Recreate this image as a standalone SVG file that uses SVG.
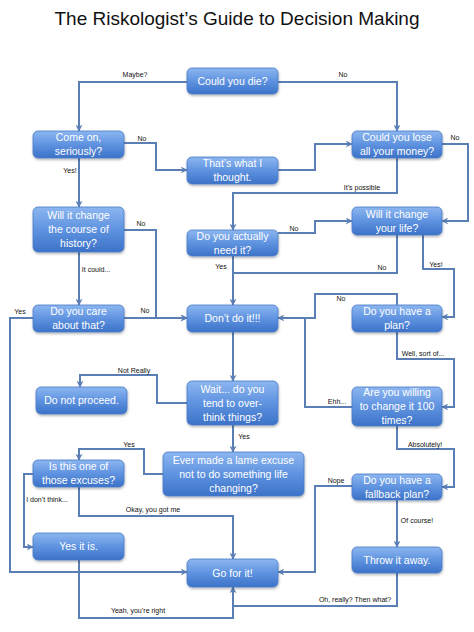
<svg xmlns="http://www.w3.org/2000/svg" width="474" height="632" viewBox="0 0 474 632">
<defs>
<linearGradient id="g" x1="0" y1="0" x2="0" y2="1">
<stop offset="0" stop-color="#8cb6f0"/>
<stop offset="0.5" stop-color="#5f93e0"/>
<stop offset="1" stop-color="#3c72c8"/>
</linearGradient>
<filter id="sh" x="-10%" y="-10%" width="125%" height="140%">
<feDropShadow dx="0.5" dy="1.5" stdDeviation="1" flood-color="#000" flood-opacity="0.3"/>
</filter>
<marker id="ar" viewBox="0 0 10 10" refX="9" refY="5" markerWidth="7" markerHeight="7" markerUnits="userSpaceOnUse" orient="auto">
<path d="M0,0 L10,5 L0,10 L3,5 z" fill="#5b7fb5"/>
</marker>
</defs>
<style>
.n rect{fill:url(#g);stroke:#4a7cc6;stroke-width:0.8;filter:url(#sh)}
.n text{fill:#fff;font-family:"Liberation Sans",Arial,sans-serif;font-size:10.5px;text-anchor:middle}
.c path{fill:none;stroke:#5b7fb5;stroke-width:2}
.c path.a{marker-end:url(#ar)}
.l text{fill:#111;font-family:"Liberation Sans",Arial,sans-serif;font-size:7px;text-anchor:middle}
.t{fill:#111;font-family:"Liberation Sans",Arial,sans-serif;font-size:19px;text-anchor:middle}
</style>
<rect width="474" height="632" fill="#fff"/>
<text class="t" x="237" y="25">The Riskologist’s Guide to Decision Making</text>

<g class="c" id="connectors">
<path class="a" d="M187,82 H79 V131"/>
<path class="a" d="M278,82 H397 V131"/>
<path class="a" d="M124,143 H156 V170 H187"/>
<path class="a" d="M79,158 V207"/>
<path class="a" d="M278,170 H315 V144 H352"/>
<path class="a" d="M442,144 H468 V221 H442"/>
<path class="a" d="M397,158 V193 H233 V230"/>
<path class="a" d="M124,230 H156 V318 H187"/>
<path class="a" d="M79,252 V305"/>
<path class="a" d="M124,318 H187"/>
<path class="a" d="M33,318 H10 V572 H187"/>
<path class="a" d="M278,233 H315 V221 H352"/>
<path class="a" d="M233,256 V305"/>
<path d="M397,235 V273 H233"/>
<path class="a" d="M423,235 V269 H454 V317 H442"/>
<path class="a" d="M397,305 V294 H315 V318 H278"/>
<path class="a" d="M397,332 V359 H454 V407 H442"/>
<path d="M352,407 H305 V318"/>
<path class="a" d="M233,332 V381"/>
<path class="a" d="M187,403 H157 V375 H80 V387"/>
<path class="a" d="M233,425 V452"/>
<path class="a" d="M163,474 H144 V449 H79 V460"/>
<path class="a" d="M33,474 H24 V547 H33"/>
<path class="a" d="M79,487 V516 H233 V559"/>
<path class="a" d="M79,560 V618 H233 V587"/>
<path class="a" d="M397,426 V449 H454 V487 H442"/>
<path class="a" d="M352,486 H315 V572 H278"/>
<path class="a" d="M397,500 V547"/>
<path d="M397,573 V606 H233"/>
</g>

<g class="l" id="labels">
<text x="135" y="77">Maybe?</text>
<text x="343" y="77">No</text>
<text x="142" y="141">No</text>
<text x="70" y="173">Yes!</text>
<text x="362" y="190">It’s possible</text>
<text x="455" y="140">No</text>
<text x="141" y="226">No</text>
<text x="96" y="272">It could...</text>
<text x="20" y="314">Yes</text>
<text x="145" y="313">No</text>
<text x="294" y="231">No</text>
<text x="221" y="269">Yes</text>
<text x="382" y="270">No</text>
<text x="436" y="267">Yes!</text>
<text x="341" y="301">No</text>
<text x="423" y="356">Well, sort of...</text>
<text x="337" y="404">Ehh...</text>
<text x="134" y="373">Not Really</text>
<text x="244" y="439">Yes</text>
<text x="129" y="447">Yes</text>
<text x="425" y="447">Absolutely!</text>
<text x="336" y="483">Nope</text>
<text x="47" y="502">I don’t think...</text>
<text x="153" y="512">Okay, you got me</text>
<text x="417" y="523">Of course!</text>
<text x="138" y="613">Yeah, you’re right</text>
<text x="355" y="602">Oh, really? Then what?</text>
</g>

<g class="n" id="n-die"><rect x="187" y="68" width="91" height="26" rx="5"/><text x="232.5" y="84.7">Could you die?</text></g>
<g class="n" id="n-comeon"><rect x="33" y="131" width="91" height="27" rx="5"/><text x="78.5" y="141.2">Come on,</text><text x="78.5" y="155.2">seriously?</text></g>
<g class="n" id="n-thought"><rect x="187" y="157" width="91" height="27" rx="5"/><text x="232.5" y="167.2">That’s what I</text><text x="232.5" y="181.2">thought.</text></g>
<g class="n" id="n-money"><rect x="352" y="131" width="90" height="27" rx="5"/><text x="397" y="141.2">Could you lose</text><text x="397" y="155.2">all your money?</text></g>
<g class="n" id="n-history"><rect x="33" y="207" width="91" height="45" rx="5"/><text x="78.5" y="219.2">Will it change</text><text x="78.5" y="233.2">the course of</text><text x="78.5" y="247.2">history?</text></g>
<g class="n" id="n-need"><rect x="187" y="230" width="91" height="26" rx="5"/><text x="232.5" y="239.7">Do you actually</text><text x="232.5" y="253.7">need it?</text></g>
<g class="n" id="n-life"><rect x="352" y="207" width="90" height="28" rx="5"/><text x="397" y="217.7">Will it change</text><text x="397" y="231.7">your life?</text></g>
<g class="n" id="n-care"><rect x="33" y="305" width="91" height="27" rx="5"/><text x="78.5" y="315.2">Do you care</text><text x="78.5" y="329.2">about that?</text></g>
<g class="n" id="n-dont"><rect x="187" y="305" width="91" height="27" rx="5"/><text x="232.5" y="322.2">Don’t do it!!!</text></g>
<g class="n" id="n-plan"><rect x="352" y="305" width="90" height="27" rx="5"/><text x="397" y="315.2">Do you have a</text><text x="397" y="329.2">plan?</text></g>
<g class="n" id="n-proceed"><rect x="36" y="387" width="91" height="27" rx="5"/><text x="81.5" y="404.2">Do not proceed.</text></g>
<g class="n" id="n-wait"><rect x="187" y="381" width="91" height="44" rx="5"/><text x="232.5" y="392.7">Wait... do you</text><text x="232.5" y="406.7">tend to over-</text><text x="232.5" y="420.7">think things?</text></g>
<g class="n" id="n-willing"><rect x="352" y="387" width="90" height="39" rx="5"/><text x="397" y="396.2">Are you willing</text><text x="397" y="410.2">to change it 100</text><text x="397" y="424.2">times?</text></g>
<g class="n" id="n-excuse"><rect x="163" y="452" width="141" height="44" rx="5"/><text x="233.5" y="463.7">Ever made a lame excuse</text><text x="233.5" y="477.7">not to do something life</text><text x="233.5" y="491.7">changing?</text></g>
<g class="n" id="n-those"><rect x="33" y="460" width="91" height="27" rx="5"/><text x="78.5" y="470.2">Is this one of</text><text x="78.5" y="484.2">those excuses?</text></g>
<g class="n" id="n-fallback"><rect x="352" y="474" width="90" height="26" rx="5"/><text x="397" y="483.7">Do you have a</text><text x="397" y="497.7">fallback plan?</text></g>
<g class="n" id="n-yesitis"><rect x="33" y="533" width="91" height="27" rx="5"/><text x="78.5" y="550.2">Yes it is.</text></g>
<g class="n" id="n-go"><rect x="187" y="559" width="91" height="28" rx="5"/><text x="232.5" y="576.7">Go for it!</text></g>
<g class="n" id="n-throw"><rect x="352" y="547" width="90" height="26" rx="5"/><text x="397" y="563.7">Throw it away.</text></g>
</svg>
